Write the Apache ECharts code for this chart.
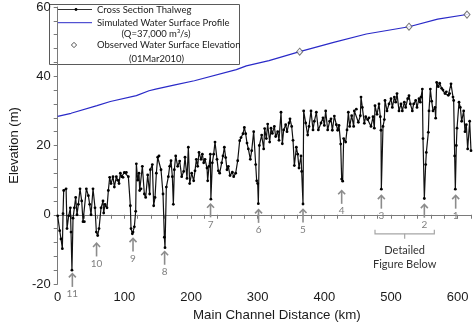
<!DOCTYPE html>
<html><head><meta charset="utf-8">
<script src="https://cdn.jsdelivr.net/npm/echarts@6/dist/echarts.min.js"></script>
<style>html,body{margin:0;padding:0;background:#fff}#c{width:474px;height:329px}</style>
</head><body><div id="c"></div>
<script>
// ---- data ----
const distKm = [0,3,5,7,8,9,12.6,14,16.5,19,20,21.4,23,25,27,29,31,33.5,36,38,40,43,46,48,50,53,56,58,60,62,65,68,69,71,74,76,78,80,83,85,88,90,92,94,96,98,100,103,106,109,110,112,113,115,117,118,120,122,123,125,127,130,132,135,138,139,142,144,146,148,150,152,155,158,160,161,163,166,168,170,172,173.5,175,177,180,183,186,189,191,194,196,198,201,204,206,208,210,212,215,217,219,221,224,225,227,229,229.8,232,234,236,239,241,243,246,248,250,252,254,256,258.5,262,264,267,270,273,275,278,280,282,284,286,289,291,294,297,298.5,300,301,302.5,306,309,310.5,313,315,318,320,322,325,327,330,332,335,337,339,342,344,347,348.5,351,353,355,358,360,362,365,366,368,369,372,375,377,380,383,385,388,391,395,398,400,402,405,408,410,412,415,418,420,422,424.5,426,427.5,429,432,434,436,438,441,444,445,448,451,454,455,457,460,462,465,467,470,473,475,476,479,482,484,485,485.5,488,490,491,494,497,500,502,505,507,509,512,515,517,520,522,525,527,529,532,534,537,539,542,544,545,547,548,550,552,553,556,557,559,561,563,566,567,568.5,571,573,576,578,581,583,586,588,590,593,594,595.5,596.5,598,599,602,604,606,609,611,613,615,618,620];
const thalwegElev = [-0.3,-4.6,-7,-9.8,0.3,7,7.5,-4,-0.3,2,-5,-16,-1,2,5,0,3,7.5,4,-2,-2,7.5,5.5,3,0,7.5,2,-5,-6,-4,2,4,0.5,3,2,7,10.8,9,11,8,11,10,9,12,11,10.8,12.2,12.2,11,2.6,-4,-5.5,-5,-3.5,1,14.7,10,12,7,7.5,14,6,5,11.5,6,13,14.5,2.6,5,12,16.6,17,13,6,-6.5,-9.5,8,11,14,15.6,11,3,13,17,14,15.5,11,12.5,16.6,10.5,19.5,9,12,9.8,12.7,16,14,18,16,17.5,15,16,13.5,9.8,14,17.5,4.5,15,17.5,21,16,12.7,12,15,17,19.5,16.5,13,14,11.3,12.3,11,12,15.6,21.4,22.3,23.4,25.2,23.4,20.7,19,16,18.5,24,14.5,9.8,9,3.2,20,23,19,24.9,22,26.2,21,25,23.5,25.5,22.6,24,21.5,29.6,20.5,24.5,26,24,26.5,27.7,25.5,21.5,14.2,19.5,17.5,13.5,17,12.5,3.1,30,26.5,23,25.5,30,24.5,27,29.6,24.5,26.5,28,25.8,30,24.5,27,27.7,24.4,28.5,26,24.4,25.8,20.4,10.3,9.7,22,21,24.5,29.6,25.5,28.6,25.5,30,30.5,26.7,28.6,34,31,26.4,28.3,27.5,28,25.5,28.3,25,31.5,29,32,28.3,24.4,7.4,25.5,27.5,33,30,32,33.5,31,34,32.5,35,30,32,30,32.5,31,33.5,34.4,32,30,32,33,31,33.5,32.5,34,36.3,22,4.7,14.5,18,23.8,30,36.3,32.8,30,31,27.9,38.2,37,38,36.5,36,35,35.5,34.5,35,37.8,34,33,17,7.4,20,25,32.5,31,27,30,24,26,19,27,18.5];
const wsKm = [0,20,59,79,118,137,147,176,205,268,283,317,363,414,463,527,570,616];
const wsElev = [28.4,29.3,31.5,32.7,34.4,35.8,36.3,37.5,38.7,41.9,43.0,44.5,47.1,49.8,52.2,54.3,56.5,57.9];
const obsKm = [363, 527, 614];
const obsElev = [47.1, 54.3, 57.8];
const arrowKm = [22, 58.3, 113, 160.4, 229.3, 301.3, 368, 426, 485.5, 550, 597];
const arrowTipElev = [-16.8, -8, -6.6, -10.4, 3.3, 1.7, 1.8, 7.2, 5.8, 3.2, 5.8];
const arrowLabels = ['11','10','9','8','7','6','5','4','3','2','1'];
const bracketKm = [476, 565];
const bracketElev = -5.5;
const xTickLabels = [0,100,200,300,400,500,600];
const yTickLabels = [-20,0,20,40,60];

// ---- chart ----
const chart = echarts.init(document.getElementById('c'), null, {renderer:'canvas'});
const axisFont = 'Liberation Sans';
const gray = '#8c8c8c';
const option = {
  animation: false,
  backgroundColor: '#fff',
  grid: {left: 46, right: 2.5, top: 7, bottom: 45, containLabel: false},
  xAxis: {
    type: 'value', min: 0, max: 620, interval: 20,
    name: 'Main Channel Distance (km)', nameLocation: 'middle', nameGap: 21,
    nameTextStyle: {fontFamily: axisFont, fontSize: 13.3, color: '#1a1a1a', padding: [0,0,0,25]},
    axisLine: {show: true, lineStyle: {color: '#7a7a7a', width: 1}},
    axisTick: {show: true, inside: false, length: 4, lineStyle: {color: '#7a7a7a'}},
    axisLabel: {margin: 7, fontFamily: axisFont, fontSize: 13, color: '#1a1a1a',
      formatter: v => xTickLabels.includes(v) ? String(v) : ''},
    splitLine: {show: false}
  },
  yAxis: {
    type: 'value', min: -20, max: 60, interval: 4,
    name: 'Elevation (m)', nameLocation: 'middle', nameGap: 26,
    nameTextStyle: {fontFamily: axisFont, fontSize: 13, color: '#1a1a1a'},
    axisLine: {show: true, lineStyle: {color: '#7a7a7a', width: 1}},
    axisTick: {show: true, inside: false, length: 4, lineStyle: {color: '#7a7a7a'}},
    axisLabel: {margin: 7, fontFamily: axisFont, fontSize: 13, color: '#1a1a1a',
      formatter: v => yTickLabels.includes(v) ? String(v) : ''},
    splitLine: {show: false}
  },
  series: [
    {
      name: 'Simulated Water Surface Profile', type: 'line',
      data: wsKm.map((k,i)=>[k, wsElev[i]]),
      showSymbol: false, lineStyle: {color: '#2a2ac8', width: 1.2}, z: 2
    },
    {
      name: 'Cross Section Thalweg', type: 'line',
      data: distKm.map((k,i)=>[k, thalwegElev[i]]),
      symbol: 'circle', symbolSize: 2.8, showAllSymbol: true,
      itemStyle: {color: '#000'}, lineStyle: {color: '#111', width: 1.2}, z: 3
    },
    {
      name: 'Observed Water Surface Elevation', type: 'scatter',
      data: obsKm.map((k,i)=>[k, obsElev[i]]),
      symbol: 'diamond', symbolSize: [6,7],
      itemStyle: {color: '#fff', borderColor: '#555', borderWidth: 1}, z: 4
    },
    {
      type: 'custom', name: 'arrows', clip: false, z: 5,
      data: arrowKm.map((k,i)=>[k, arrowTipElev[i]]),
      encode: {x: 0, y: 1},
      renderItem: function (params, api) {
        const p = api.coord([api.value(0), api.value(1)]);
        return {type: 'group', children: [
          {type: 'line', shape: {x1: p[0], y1: p[1]+1, x2: p[0], y2: p[1]+14},
            style: {stroke: gray, lineWidth: 1.6}},
          {type: 'polyline', shape: {points: [[p[0]-3.5, p[1]+4.5],[p[0], p[1]+0.8],[p[0]+3.5, p[1]+4.5]]},
            style: {stroke: gray, lineWidth: 1.6, fill: null}},
          {type: 'text', x: p[0], y: p[1]+21,
            style: {text: arrowLabels[params.dataIndex], fill: '#7f7f7f', font: '10px Lato', align: 'center', verticalAlign: 'middle'}}
        ]};
      }
    },
    {
      type: 'custom', name: 'bracket', clip: false, z: 5,
      data: [[bracketKm[0], bracketElev, bracketKm[1]]],
      encode: {x: 0, y: 1},
      renderItem: function (params, api) {
        const a = api.coord([api.value(0), api.value(1)]);
        const b = api.coord([api.value(2), api.value(1)]);
        const cx = (a[0]+b[0])/2;
        return {type: 'group', children: [
          {type: 'polyline', shape: {points: [[a[0], a[1]-4],[a[0], a[1]],[b[0], b[1]],[b[0], b[1]-4]]},
            style: {stroke: '#a6a6a6', lineWidth: 1.2, fill: null}},
          {type: 'line', shape: {x1: cx, y1: a[1], x2: cx, y2: a[1]+5}, style: {stroke: '#a6a6a6', lineWidth: 1.2}},
          {type: 'text', x: cx, y: a[1]+16.5, style: {text: 'Detailed', fill: '#333', font: '11px Lato', align: 'center', verticalAlign: 'middle'}},
          {type: 'text', x: cx, y: a[1]+30.5, style: {text: 'Figure Below', fill: '#333', font: '11px Lato', align: 'center', verticalAlign: 'middle'}}
        ]};
      }
    }
  ],
  graphic: [
    {type: 'group', z: 100, children: [
      {type: 'rect', shape: {x: 49.5, y: 4.5, width: 190, height: 60}, style: {fill: '#fff', stroke: '#5a5a5a', lineWidth: 1}},
      {type: 'line', shape: {x1: 57, y1: 9.5, x2: 92, y2: 9.5}, style: {stroke: '#333', lineWidth: 1}},
      {type: 'circle', shape: {cx: 76, cy: 9.5, r: 1.4}, style: {fill: '#000'}},
      {type: 'text', x: 97, y: 9.8, style: {text: 'Cross Section Thalweg', fill: '#1a1a1a', font: '9.5px Lato', verticalAlign: 'middle'}},
      {type: 'line', shape: {x1: 57, y1: 22.7, x2: 92, y2: 22.7}, style: {stroke: '#2a2ac8', lineWidth: 1}},
      {type: 'text', x: 97, y: 23, style: {text: 'Simulated Water Surface Profile', fill: '#1a1a1a', font: '9.5px Lato', verticalAlign: 'middle'}},
      {type: 'text', x: 156, y: 33.8, style: {text: '(Q=37,000 m³/s)', fill: '#1a1a1a', font: '9.5px Lato', align: 'center', verticalAlign: 'middle'}},
      {type: 'polygon', shape: {points: [[74,42.3],[76.6,45],[74,47.7],[71.4,45]]}, style: {fill: '#fff', stroke: '#555', lineWidth: 1}},
      {type: 'text', x: 97, y: 45.3, style: {text: 'Observed Water Surface Elevation', fill: '#1a1a1a', font: '9.5px Lato', verticalAlign: 'middle'}},
      {type: 'text', x: 156.5, y: 58.7, style: {text: '(01Mar2010)', fill: '#1a1a1a', font: '9.5px Lato', align: 'center', verticalAlign: 'middle'}}
    ]}
  ]
};
chart.setOption(option);
</script>
</body></html>
